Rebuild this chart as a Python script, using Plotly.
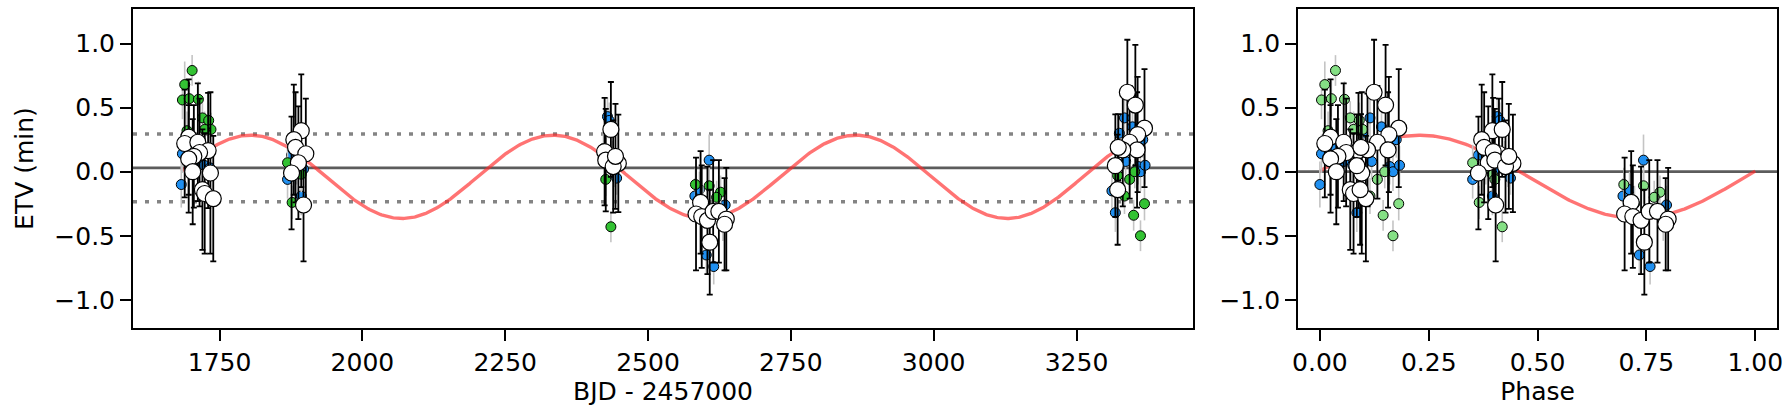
import numpy as np
import plotly.graph_objects as go
from plotly.subplots import make_subplots

# ---- data (BJD - 2457000, ETV in minutes, 1-sigma errors) ----
blue_t = [1683, 1685, 1698, 1712, 1723, 1733,
          1869, 1876, 1893, 1897,
          2429, 2432, 2445, 2438,
          2582, 2607, 2602, 2615, 2635, 2590,
          3318, 3312, 3325, 3334, 3336, 3348, 3358, 3362, 3366, 3370]
blue_etv = [-0.10, 0.14, 0.20, 0.08, 0.05, 0.03,
            -0.06, 0.13, -0.19, 0.02,
            0.43, 0.40, -0.05, 0.10,
            -0.19, 0.09, -0.65, -0.74, -0.26, -0.14,
            -0.32, -0.15, 0.30, 0.42, 0.08, 0.35, 0.04, 0.00, 0.25, 0.05]
blue_err = [0.18, 0.15, 0.15, 0.14, 0.15, 0.14,
            0.15, 0.14, 0.15, 0.14,
            0.15, 0.14, 0.13, 0.14,
            0.14, 0.20, 0.15, 0.14, 0.15, 0.14,
            0.15, 0.15, 0.14, 0.15, 0.14, 0.15, 0.14, 0.15, 0.14, 0.15]

green_t = [1702, 1689, 1685, 1697, 1713, 1720, 1731, 1735, 1724, 1693,
           1869, 1877, 1893, 1885,
           2435, 2422, 2426, 2442,
           2583, 2607, 2627, 2631, 2596, 2620,
           3343, 3352, 3334, 3369, 3350, 3362, 3322]
green_etv = [0.79, 0.68, 0.56, 0.57, 0.565, 0.42, 0.40, 0.33, 0.33, 0.32,
             0.07, -0.24, -0.02, 0.03,
             -0.43, 0.18, -0.06, 0.02,
             -0.10, -0.11, -0.16, -0.42, -0.25, -0.20,
             -0.06, 0.00, -0.19, -0.25, -0.34, -0.50, -0.03]
green_err = [0.12, 0.18, 0.15, 0.14, 0.14, 0.13, 0.14, 0.13, 0.14, 0.15,
             0.14, 0.13, 0.14, 0.13,
             0.12, 0.14, 0.13, 0.14,
             0.13, 0.14, 0.13, 0.12, 0.14, 0.13,
             0.14, 0.13, 0.14, 0.13, 0.12, 0.12, 0.14]

white_t = [1696, 1689, 1712, 1730, 1715, 1705, 1696, 1703, 1734, 1720, 1724, 1739,
           1893, 1880, 1883, 1901, 1888, 1876, 1897,
           2435, 2424, 2426, 2448, 2439, 2443,
           2592, 2584, 2594, 2604, 2614, 2624, 2637, 2634, 2608,
           3339, 3353, 3369, 3357, 3343, 3356, 3331, 3323, 3318, 3322]
white_etv = [0.27, 0.22, 0.23, 0.165, 0.15, 0.12, 0.10, 0.00, -0.01, -0.14, -0.17, -0.21,
             0.32, 0.25, 0.19, 0.14, 0.07, -0.01, -0.26,
             0.33, 0.157, 0.09, 0.065, 0.04, 0.12,
             -0.24, -0.33, -0.35, -0.38, -0.31, -0.31, -0.37, -0.41, -0.55,
             0.62, 0.52, 0.34, 0.29, 0.23, 0.17, 0.17, 0.19, 0.047, -0.14]
white_err = [0.45, 0.42, 0.46, 0.45, 0.42, 0.40, 0.42, 0.41, 0.63, 0.47, 0.47, 0.49,
             0.44, 0.43, 0.43, 0.43, 0.44, 0.44, 0.44,
             0.37, 0.42, 0.40, 0.38, 0.36, 0.41,
             0.40, 0.44, 0.40, 0.42, 0.40, 0.40, 0.40, 0.36, 0.41,
             0.41, 0.47, 0.46, 0.45, 0.44, 0.45, 0.44, 0.26, 0.40, 0.43]

# sine model parameters
period = 530.0
t_ref = 1683.0
amp = 0.325
offset = -0.04
peak_phase = 0.228
mean_etv = 0.03
band = 0.265


def phase_of(t):
    return ((np.asarray(t, dtype=float) - t_ref) / period) % 1.0


def model_phase(ph):
    return offset + amp * np.cos(2 * np.pi * (ph - peak_phase))


fig = make_subplots(rows=1, cols=2, horizontal_spacing=0.0)

all_t = blue_t + green_t + white_t
t_line = np.linspace(min(all_t), max(all_t), 800)
ph_line = np.linspace(0, 1, 400)

RED = "rgba(255,40,40,0.65)"
BLUE = "#1f8ff0"
GREEN_L = "#33c233"
GREEN_R = "#85e085"
SMALL_ERR = dict(type="data", thickness=1.6, width=0, color="#c4c4c4")
BIG_ERR = dict(type="data", thickness=1.8, width=3, color="black")
SMALL = 10
BIG = 16

# left panel
fig.add_trace(go.Scatter(x=t_line, y=model_phase(phase_of(t_line)), mode="lines",
                         line=dict(color=RED, width=3.4)), 1, 1)
fig.add_trace(go.Scatter(x=blue_t, y=blue_etv, mode="markers",
                         error_y=dict(array=blue_err, **SMALL_ERR),
                         marker=dict(size=SMALL, color=BLUE, line=dict(color="black", width=1))), 1, 1)
fig.add_trace(go.Scatter(x=green_t, y=green_etv, mode="markers",
                         error_y=dict(array=green_err, **SMALL_ERR),
                         marker=dict(size=SMALL, color=GREEN_L, line=dict(color="black", width=1))), 1, 1)
fig.add_trace(go.Scatter(x=white_t, y=white_etv, mode="markers",
                         error_y=dict(array=white_err, **BIG_ERR),
                         marker=dict(size=BIG, color="white", line=dict(color="black", width=1.2))), 1, 1)

# right panel (phase folded)
fig.add_trace(go.Scatter(x=ph_line, y=model_phase(ph_line), mode="lines",
                         line=dict(color=RED, width=3.4)), 1, 2)
fig.add_trace(go.Scatter(x=phase_of(blue_t), y=blue_etv, mode="markers",
                         error_y=dict(array=blue_err, **SMALL_ERR),
                         marker=dict(size=SMALL, color=BLUE, line=dict(color="black", width=1))), 1, 2)
fig.add_trace(go.Scatter(x=phase_of(green_t), y=green_etv, mode="markers",
                         error_y=dict(array=green_err, **SMALL_ERR),
                         marker=dict(size=SMALL, color=GREEN_R, line=dict(color="black", width=1))), 1, 2)
fig.add_trace(go.Scatter(x=phase_of(white_t), y=white_etv, mode="markers",
                         error_y=dict(array=white_err, **BIG_ERR),
                         marker=dict(size=BIG, color="white", line=dict(color="black", width=1.2))), 1, 2)

# reference lines
fig.add_hline(y=mean_etv, line=dict(color="#5c5c5c", width=2.8), layer="below", row=1, col=1)
fig.add_hline(y=mean_etv + band, line=dict(color="#848484", width=3.5, dash="4px,8px"),
              layer="below", row=1, col=1)
fig.add_hline(y=mean_etv - band, line=dict(color="#848484", width=3.5, dash="4px,8px"),
              layer="below", row=1, col=1)
fig.add_hline(y=0, line=dict(color="#5c5c5c", width=2.8), layer="below", row=1, col=2)

FONT = "DejaVu Sans"
FS = 25
axis_common = dict(showline=True, linecolor="black", linewidth=2, mirror=True,
                   ticks="outside", ticklen=11, tickwidth=2, tickcolor="black",
                   showgrid=False, zeroline=False, automargin=False,
                   tickfont=dict(family=FONT, size=FS, color="black"))

fig.update_xaxes(domain=[0, 0.6448], range=[1598.5, 3454], tickvals=[1750, 2000, 2250, 2500, 2750, 3000, 3250],
                 title=dict(text="BJD - 2457000", font=dict(family=FONT, size=FS, color="black"), standoff=2),
                 row=1, col=1, **axis_common)
fig.update_xaxes(domain=[0.7087, 1], range=[-0.05, 1.05], tickvals=[0, 0.25, 0.5, 0.75, 1.0],
                 tickformat=".2f",
                 title=dict(text="Phase", font=dict(family=FONT, size=FS, color="black"), standoff=2),
                 row=1, col=2, **axis_common)
fig.update_yaxes(range=[-1.22, 1.27], tickvals=[-1.0, -0.5, 0.0, 0.5, 1.0], tickformat=".1f",
                 title=dict(text="ETV (min)", font=dict(family=FONT, size=FS, color="black"), standoff=14),
                 row=1, col=1, **axis_common)
fig.update_yaxes(range=[-1.22, 1.27], tickvals=[-1.0, -0.5, 0.0, 0.5, 1.0], tickformat=".1f",
                 row=1, col=2, **axis_common)

fig.update_layout(width=1785, height=413, showlegend=False,
                  margin=dict(l=133, r=8, t=9, b=85),
                  paper_bgcolor="white", plot_bgcolor="white",
                  font=dict(family=FONT, size=FS, color="black"))

# drop the default page margin so the figure sits at the window's top-left corner
fig.write_html("out.html", config={"displayModeBar": False},
               post_script="document.body.style.margin='0';document.body.style.overflow='hidden';")
